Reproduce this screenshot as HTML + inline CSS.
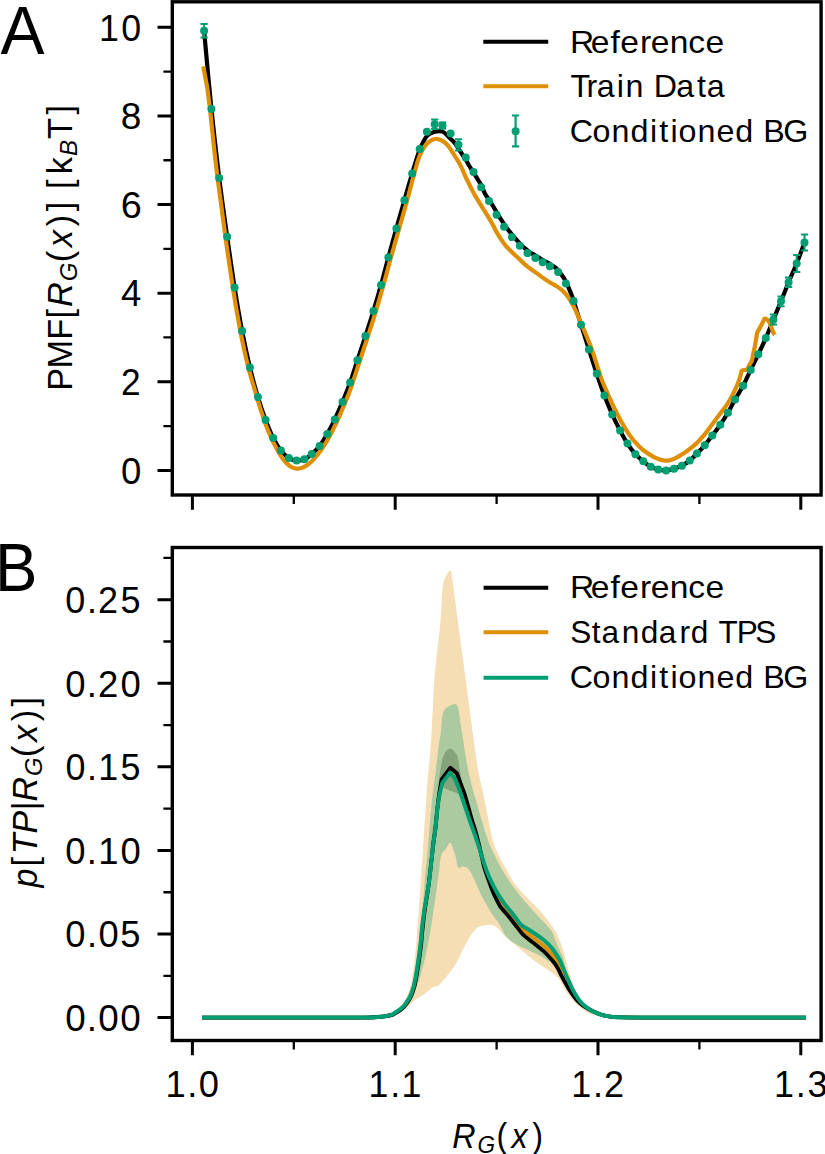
<!DOCTYPE html>
<html><head><meta charset="utf-8"><style>
html,body{margin:0;padding:0;background:#fff;}
body{width:825px;height:1154px;overflow:hidden;font-family:"Liberation Sans",sans-serif;}
svg{display:block;}
</style></head><body>
<svg width="825" height="1154" viewBox="0 0 825 1154">
<rect width="100%" height="100%" fill="#fff"/>
<g fill="none" stroke-linejoin="round" stroke-linecap="butt">
<path d="M204.10,30.70 C205.32,43.73 208.88,84.37 211.40,108.90 C213.92,133.43 216.57,156.58 219.20,177.90 C221.83,199.22 224.63,218.53 227.20,236.80 C229.77,255.07 232.12,271.80 234.60,287.50 C237.08,303.20 239.55,317.67 242.10,331.00 C244.65,344.33 247.27,356.48 249.90,367.50 C252.53,378.52 255.28,388.35 257.90,397.10 C260.52,405.85 263.05,413.18 265.60,420.00 C268.15,426.82 270.65,432.92 273.20,438.00 C275.75,443.08 278.30,447.18 280.90,450.50 C283.50,453.82 286.18,456.23 288.80,457.90 C291.42,459.57 294.00,460.27 296.60,460.50 C299.20,460.73 301.88,460.37 304.40,459.30 C306.92,458.23 309.17,456.32 311.70,454.10 C314.23,451.88 317.00,449.37 319.60,446.00 C322.20,442.63 324.77,438.33 327.30,433.90 C329.83,429.47 332.27,424.73 334.80,419.40 C337.33,414.07 339.95,408.07 342.50,401.90 C345.05,395.73 347.62,389.33 350.10,382.40 C352.58,375.47 354.85,368.02 357.40,360.30 C359.95,352.58 362.73,344.32 365.40,336.10 C368.07,327.88 370.80,319.52 373.40,311.00 C376.00,302.48 378.50,293.95 381.00,285.00 C383.50,276.05 385.83,266.73 388.40,257.30 C390.97,247.87 393.73,237.90 396.40,228.40 C399.07,218.90 401.77,209.47 404.40,200.30 C407.03,191.13 409.65,181.82 412.20,173.40 C414.75,164.98 417.25,156.03 419.70,149.80 C422.15,143.57 424.40,139.00 426.90,136.00 C429.40,133.00 432.07,132.53 434.70,131.80 C437.33,131.07 440.15,130.52 442.70,131.60 C445.25,132.68 448.00,136.40 450.00,138.30 C452.00,140.20 453.03,140.88 454.70,143.00 C456.37,145.12 458.23,148.33 460.00,151.00 C461.77,153.67 463.85,156.67 465.30,159.00 C466.75,161.33 467.58,163.12 468.70,165.00 C469.82,166.88 470.67,168.18 472.00,170.30 C473.33,172.42 475.15,175.22 476.70,177.70 C478.25,180.18 479.92,182.53 481.30,185.20 C482.68,187.87 483.72,191.33 485.00,193.74 C486.28,196.15 487.67,197.63 489.00,199.66 C490.33,201.70 491.67,203.73 493.00,205.96 C494.33,208.19 495.67,210.79 497.00,213.04 C498.33,215.29 499.67,217.35 501.00,219.44 C502.33,221.53 503.67,223.68 505.00,225.59 C506.33,227.49 507.67,229.15 509.00,230.87 C510.33,232.59 511.67,234.34 513.00,235.93 C514.33,237.51 515.67,238.93 517.00,240.38 C518.33,241.83 519.67,243.30 521.00,244.64 C522.33,245.98 523.67,247.25 525.00,248.43 C526.33,249.61 527.67,250.76 529.00,251.71 C530.33,252.66 531.67,253.33 533.00,254.14 C534.33,254.95 535.67,255.76 537.00,256.56 C538.33,257.37 539.67,258.20 541.00,258.98 C542.33,259.76 543.67,260.51 545.00,261.25 C546.33,261.99 547.67,262.60 549.00,263.41 C550.33,264.22 551.67,265.17 553.00,266.09 C554.33,267.01 555.67,267.60 557.00,268.92 C558.33,270.24 559.67,272.17 561.00,274.01 C562.33,275.85 563.67,277.52 565.00,279.96 C566.33,282.40 567.67,285.48 569.00,288.63 C570.33,291.79 571.67,294.99 573.00,298.87 C574.33,302.76 574.35,303.52 577.00,311.94 C579.65,320.36 585.60,339.09 588.90,349.40 C592.20,359.71 594.22,366.10 596.80,373.80 C599.38,381.50 601.83,388.82 604.40,395.60 C606.97,402.38 609.58,408.68 612.20,414.50 C614.82,420.32 617.55,425.65 620.10,430.50 C622.65,435.35 624.95,439.65 627.50,443.60 C630.05,447.55 632.77,451.25 635.40,454.20 C638.03,457.15 640.75,459.20 643.30,461.30 C645.85,463.40 648.22,465.43 650.70,466.80 C653.18,468.17 655.63,468.90 658.20,469.50 C660.77,470.10 663.47,470.52 666.10,470.40 C668.73,470.28 671.37,469.58 674.00,468.80 C676.63,468.02 679.27,467.08 681.90,465.70 C684.53,464.32 687.30,462.53 689.80,460.50 C692.30,458.47 694.42,456.03 696.90,453.50 C699.38,450.97 702.13,448.28 704.70,445.30 C707.27,442.32 709.70,439.02 712.30,435.60 C714.90,432.18 717.70,428.60 720.30,424.80 C722.90,421.00 725.43,417.03 727.90,412.80 C730.37,408.57 732.57,403.90 735.10,399.40 C737.63,394.90 740.50,390.72 743.10,385.80 C745.70,380.88 748.17,375.15 750.70,369.90 C753.23,364.65 755.78,359.60 758.30,354.30 C760.82,349.00 763.28,343.90 765.80,338.10 C768.32,332.30 770.87,325.63 773.40,319.50 C775.93,313.37 778.47,307.52 781.00,301.30 C783.53,295.08 785.98,288.50 788.60,282.20 C791.22,275.90 794.05,270.10 796.70,263.50 C799.35,256.90 803.20,246.08 804.50,242.60" stroke="#000000" stroke-width="4.2"/>
<path d="M203.30,66.40 C203.43,67.12 203.83,69.28 204.10,70.72 C204.37,72.16 204.63,73.60 204.90,75.04 C205.17,76.48 205.43,77.92 205.70,79.36 C205.97,80.80 206.23,82.24 206.50,83.68 C206.77,85.12 207.08,86.58 207.30,88.00 C207.52,89.42 207.66,90.79 207.84,92.18 C208.02,93.57 208.20,94.97 208.38,96.36 C208.56,97.75 208.74,99.15 208.92,100.54 C209.10,101.93 209.28,103.33 209.46,104.72 C209.64,106.11 209.84,107.49 210.00,108.90 C210.16,110.31 210.29,111.74 210.44,113.16 C210.58,114.58 210.73,116.00 210.88,117.43 C211.02,118.85 211.17,120.27 211.31,121.69 C211.46,123.11 211.60,124.53 211.75,125.95 C211.90,127.37 212.04,128.79 212.19,130.21 C212.33,131.63 212.48,133.05 212.62,134.48 C212.77,135.90 212.92,137.32 213.07,138.74 C213.22,140.17 213.37,141.60 213.52,143.04 C213.68,144.48 213.84,145.92 214.00,147.37 C214.17,148.82 214.33,150.27 214.50,151.72 C214.67,153.18 214.83,154.63 215.00,156.09 C215.17,157.54 215.33,159.00 215.50,160.45 C215.67,161.90 215.83,163.36 216.00,164.81 C216.17,166.27 216.33,167.72 216.50,169.18 C216.67,170.63 216.83,172.08 217.00,173.52 C217.18,174.97 217.35,176.40 217.53,177.82 C217.71,179.24 217.89,180.65 218.08,182.04 C218.26,183.44 218.45,184.83 218.64,186.21 C218.83,187.60 219.02,188.99 219.21,190.37 C219.40,191.76 219.60,193.14 219.79,194.53 C219.98,195.91 220.17,197.30 220.36,198.69 C220.55,200.07 220.74,201.46 220.93,202.85 C221.12,204.24 221.31,205.64 221.49,207.04 C221.68,208.44 221.87,209.85 222.06,211.26 C222.24,212.68 222.43,214.10 222.61,215.51 C222.80,216.93 222.99,218.35 223.17,219.77 C223.36,221.19 223.54,222.61 223.73,224.03 C223.91,225.45 224.10,226.87 224.29,228.29 C224.47,229.70 224.66,231.12 224.85,232.54 C225.03,233.95 225.22,235.37 225.42,236.78 C225.61,238.19 225.81,239.59 226.00,241.00 C226.20,242.40 226.40,243.80 226.60,245.20 C226.80,246.60 227.00,248.00 227.20,249.40 C227.40,250.80 227.60,252.20 227.80,253.60 C228.00,255.00 228.20,256.40 228.40,257.80 C228.60,259.21 228.81,260.61 229.01,262.02 C229.22,263.43 229.43,264.84 229.64,266.25 C229.84,267.67 230.06,269.08 230.27,270.50 C230.48,271.92 230.69,273.33 230.90,274.75 C231.11,276.17 231.32,277.58 231.53,279.00 C231.75,280.42 231.96,281.83 232.17,283.27 C232.39,284.70 232.61,286.14 232.84,287.59 C233.07,289.05 233.31,290.53 233.55,292.02 C233.79,293.50 234.03,295.00 234.28,296.50 C234.53,298.00 234.77,299.50 235.02,301.00 C235.27,302.50 235.51,304.00 235.76,305.48 C236.01,306.96 236.26,308.44 236.51,309.89 C236.76,311.34 237.01,312.76 237.26,314.18 C237.51,315.60 237.77,317.00 238.02,318.40 C238.27,319.80 238.52,321.19 238.78,322.60 C239.04,324.01 239.29,325.40 239.55,326.83 C239.82,328.27 240.09,329.71 240.38,331.21 C240.67,332.70 240.98,334.24 241.29,335.78 C241.60,337.33 241.93,338.93 242.25,340.50 C242.57,342.07 242.90,343.67 243.23,345.23 C243.55,346.79 243.88,348.34 244.21,349.86 C244.54,351.38 244.87,352.87 245.20,354.35 C245.53,355.83 245.86,357.29 246.20,358.75 C246.54,360.21 246.87,361.67 247.22,363.14 C247.58,364.61 247.94,366.09 248.33,367.59 C248.72,369.09 249.14,370.61 249.57,372.14 C250.00,373.67 250.45,375.22 250.90,376.75 C251.34,378.28 251.80,379.83 252.24,381.34 C252.68,382.86 253.12,384.36 253.55,385.82 C253.98,387.28 254.40,388.70 254.81,390.11 C255.23,391.52 255.63,392.89 256.04,394.28 C256.45,395.67 256.85,397.04 257.26,398.42 C257.67,399.80 258.07,401.18 258.50,402.57 C258.92,403.97 259.34,405.37 259.79,406.78 C260.24,408.20 260.70,409.63 261.17,411.07 C261.65,412.51 262.14,413.97 262.62,415.42 C263.10,416.87 263.59,418.33 264.08,419.78 C264.57,421.23 265.05,422.69 265.56,424.11 C266.07,425.54 266.58,426.96 267.13,428.34 C267.67,429.72 268.24,431.06 268.82,432.40 C269.40,433.73 270.00,435.03 270.60,436.35 C271.20,437.67 271.80,438.97 272.44,440.31 C273.08,441.65 273.73,443.00 274.44,444.40 C275.14,445.80 275.89,447.25 276.67,448.70 C277.46,450.15 278.26,451.65 279.14,453.13 C280.02,454.60 280.94,456.11 281.96,457.56 C282.97,459.00 284.09,460.49 285.24,461.77 C286.40,463.06 287.66,464.31 288.91,465.29 C290.17,466.26 291.47,467.06 292.77,467.61 C294.06,468.16 295.37,468.48 296.68,468.59 C297.99,468.69 299.29,468.56 300.62,468.23 C301.94,467.90 303.28,467.33 304.63,466.60 C305.98,465.87 307.38,464.90 308.73,463.83 C310.09,462.76 311.47,461.49 312.77,460.19 C314.08,458.88 315.36,457.43 316.56,455.99 C317.76,454.55 318.91,453.03 319.99,451.54 C321.08,450.06 322.09,448.56 323.08,447.07 C324.07,445.59 325.01,444.11 325.92,442.64 C326.83,441.18 327.71,439.72 328.53,438.27 C329.36,436.82 330.13,435.39 330.88,433.96 C331.63,432.53 332.34,431.12 333.05,429.70 C333.76,428.28 334.47,426.87 335.15,425.45 C335.84,424.03 336.52,422.62 337.18,421.20 C337.83,419.78 338.46,418.37 339.08,416.95 C339.70,415.53 340.30,414.12 340.90,412.70 C341.50,411.28 342.10,409.87 342.70,408.44 C343.30,407.01 343.91,405.58 344.51,404.13 C345.12,402.68 345.73,401.22 346.34,399.76 C346.94,398.30 347.56,396.81 348.13,395.37 C348.70,393.93 349.27,392.50 349.78,391.13 C350.30,389.75 350.76,388.43 351.21,387.11 C351.67,385.80 352.08,384.53 352.50,383.25 C352.92,381.97 353.33,380.70 353.75,379.42 C354.17,378.15 354.58,376.88 355.00,375.60 C355.42,374.33 355.83,373.05 356.25,371.78 C356.67,370.50 357.08,369.23 357.50,367.95 C357.92,366.67 358.33,365.40 358.76,364.11 C359.18,362.82 359.60,361.53 360.03,360.22 C360.46,358.91 360.90,357.59 361.34,356.25 C361.78,354.92 362.22,353.58 362.67,352.23 C363.11,350.89 363.56,349.54 364.00,348.20 C364.44,346.86 364.89,345.51 365.33,344.17 C365.78,342.82 366.22,341.48 366.67,340.12 C367.11,338.77 367.56,337.41 368.00,336.04 C368.44,334.67 368.89,333.29 369.33,331.91 C369.78,330.52 370.22,329.13 370.67,327.73 C371.11,326.34 371.56,324.94 372.00,323.55 C372.44,322.16 372.89,320.76 373.33,319.37 C373.78,317.97 374.22,316.58 374.66,315.17 C375.10,313.77 375.54,312.36 375.97,310.94 C376.40,309.52 376.82,308.09 377.24,306.66 C377.67,305.22 378.08,303.78 378.50,302.33 C378.92,300.89 379.33,299.44 379.75,298.00 C380.17,296.56 380.59,295.11 381.00,293.67 C381.41,292.23 381.83,290.78 382.24,289.36 C382.64,287.94 383.05,286.52 383.43,285.14 C383.82,283.76 384.19,282.41 384.56,281.07 C384.93,279.72 385.28,278.41 385.64,277.09 C386.00,275.76 386.36,274.45 386.71,273.13 C387.07,271.81 387.43,270.49 387.79,269.17 C388.14,267.85 388.50,266.53 388.86,265.21 C389.22,263.89 389.57,262.58 389.93,261.25 C390.29,259.93 390.66,258.60 391.03,257.27 C391.40,255.93 391.77,254.59 392.15,253.25 C392.52,251.91 392.91,250.56 393.29,249.21 C393.67,247.87 394.05,246.52 394.43,245.17 C394.81,243.82 395.19,242.48 395.57,241.13 C395.95,239.78 396.33,238.43 396.71,237.09 C397.10,235.74 397.48,234.39 397.86,233.05 C398.24,231.70 398.62,230.36 399.00,229.02 C399.38,227.68 399.76,226.34 400.14,225.00 C400.52,223.67 400.90,222.33 401.29,221.00 C401.67,219.67 402.05,218.33 402.43,217.00 C402.81,215.67 403.19,214.33 403.57,213.00 C403.95,211.67 404.33,210.34 404.71,209.00 C405.09,207.66 405.48,206.33 405.85,204.99 C406.23,203.64 406.61,202.29 406.98,200.93 C407.36,199.56 407.73,198.18 408.10,196.79 C408.47,195.40 408.83,194.00 409.20,192.60 C409.57,191.20 409.93,189.80 410.30,188.40 C410.67,187.00 411.03,185.60 411.40,184.22 C411.76,182.84 412.13,181.47 412.49,180.12 C412.85,178.77 413.21,177.45 413.56,176.14 C413.92,174.82 414.28,173.53 414.63,172.23 C414.99,170.94 415.34,169.64 415.70,168.35 C416.06,167.06 416.40,165.77 416.77,164.47 C417.14,163.16 417.48,161.88 417.92,160.54 C418.36,159.20 418.83,157.85 419.41,156.43 C420.00,155.02 420.67,153.53 421.42,152.06 C422.17,150.58 422.97,149.03 423.91,147.61 C424.85,146.19 425.87,144.75 427.05,143.56 C428.23,142.36 429.62,141.22 430.97,140.46 C432.33,139.69 433.83,139.16 435.20,138.98 C436.57,138.80 437.90,139.04 439.17,139.40 C440.43,139.75 441.64,140.42 442.79,141.12 C443.94,141.82 445.04,142.67 446.05,143.62 C447.06,144.57 447.97,145.68 448.86,146.84 C449.74,147.99 450.54,149.28 451.37,150.53 C452.19,151.79 452.99,153.08 453.80,154.35 C454.61,155.62 455.43,156.89 456.23,158.17 C457.04,159.45 457.86,160.71 458.62,162.03 C459.39,163.34 460.13,164.67 460.82,166.06 C461.52,167.44 462.14,168.89 462.79,170.34 C463.44,171.80 464.04,173.31 464.71,174.80 C465.37,176.29 466.07,177.80 466.76,179.25 C467.45,180.71 468.18,182.15 468.86,183.53 C469.54,184.90 470.19,186.21 470.84,187.52 C471.50,188.83 472.11,190.07 472.79,191.38 C473.48,192.69 474.18,194.00 474.97,195.38 C475.75,196.75 476.62,198.19 477.51,199.65 C478.39,201.10 479.35,202.61 480.28,204.10 C481.21,205.59 482.16,207.10 483.10,208.60 C484.03,210.10 484.98,211.61 485.90,213.10 C486.82,214.59 487.77,216.10 488.64,217.55 C489.52,219.01 490.38,220.45 491.16,221.82 C491.95,223.20 492.64,224.51 493.34,225.82 C494.04,227.13 494.66,228.37 495.36,229.68 C496.06,230.99 496.75,232.30 497.54,233.67 C498.33,235.05 499.18,236.49 500.09,237.91 C501.01,239.33 501.99,240.79 503.03,242.19 C504.06,243.59 505.14,244.96 506.31,246.32 C507.47,247.67 508.72,248.99 510.01,250.30 C511.31,251.61 512.74,252.93 514.08,254.19 C515.41,255.45 516.80,256.69 518.04,257.84 C519.28,259.00 520.40,260.08 521.51,261.14 C522.62,262.20 523.58,263.19 524.69,264.19 C525.80,265.18 526.91,266.15 528.16,267.12 C529.41,268.10 530.79,269.04 532.19,270.04 C533.59,271.04 535.11,272.05 536.58,273.12 C538.06,274.18 539.56,275.34 541.04,276.43 C542.52,277.51 543.98,278.63 545.46,279.63 C546.95,280.64 548.40,281.53 549.94,282.45 C551.48,283.37 553.08,284.17 554.71,285.15 C556.34,286.13 558.10,287.09 559.73,288.32 C561.36,289.56 563.01,290.96 564.49,292.54 C565.98,294.12 567.38,296.02 568.62,297.81 C569.86,299.60 570.97,301.56 571.95,303.28 C572.93,304.99 573.72,306.55 574.48,308.08 C575.24,309.61 575.86,310.97 576.52,312.46 C577.18,313.94 577.81,315.45 578.45,316.98 C579.10,318.50 579.75,320.08 580.40,321.61 C581.05,323.14 581.70,324.64 582.35,326.15 C583.00,327.66 583.65,329.16 584.30,330.69 C584.95,332.22 585.60,333.80 586.23,335.32 C586.86,336.85 587.49,338.39 588.09,339.84 C588.68,341.30 589.26,342.68 589.81,344.04 C590.35,345.40 590.86,346.69 591.35,348.00 C591.84,349.32 592.28,350.61 592.73,351.91 C593.17,353.22 593.58,354.52 594.00,355.82 C594.42,357.13 594.83,358.43 595.25,359.74 C595.67,361.04 596.08,362.35 596.50,363.65 C596.92,364.95 597.33,366.26 597.75,367.56 C598.17,368.87 598.58,370.17 599.00,371.48 C599.42,372.78 599.83,374.08 600.27,375.37 C600.71,376.66 601.15,377.95 601.62,379.21 C602.10,380.48 602.60,381.73 603.10,382.97 C603.61,384.21 604.14,385.44 604.67,386.67 C605.19,387.90 605.72,389.12 606.25,390.35 C606.78,391.58 607.30,392.80 607.83,394.03 C608.36,395.26 608.89,396.49 609.44,397.72 C609.98,398.96 610.53,400.19 611.11,401.44 C611.69,402.68 612.29,403.93 612.90,405.19 C613.51,406.44 614.14,407.70 614.76,408.96 C615.38,410.22 616.01,411.48 616.64,412.74 C617.27,414.00 617.89,415.26 618.55,416.53 C619.21,417.80 619.88,419.08 620.59,420.36 C621.29,421.65 622.05,422.95 622.81,424.26 C623.57,425.57 624.36,426.89 625.15,428.20 C625.94,429.51 626.73,430.83 627.55,432.10 C628.36,433.37 629.19,434.62 630.04,435.80 C630.89,436.98 631.78,438.10 632.67,439.20 C633.57,440.30 634.47,441.34 635.40,442.40 C636.33,443.46 637.23,444.50 638.24,445.53 C639.25,446.56 640.29,447.59 641.44,448.59 C642.60,449.60 643.87,450.58 645.19,451.55 C646.51,452.52 647.92,453.47 649.38,454.39 C650.85,455.31 652.38,456.24 653.99,457.05 C655.60,457.86 657.33,458.68 659.03,459.26 C660.74,459.83 662.52,460.32 664.22,460.50 C665.91,460.68 667.57,460.63 669.20,460.37 C670.83,460.10 672.41,459.55 674.00,458.89 C675.59,458.24 677.17,457.33 678.75,456.42 C680.33,455.50 681.92,454.43 683.48,453.40 C685.04,452.37 686.63,451.30 688.11,450.23 C689.60,449.16 691.06,448.08 692.40,446.98 C693.74,445.88 694.99,444.75 696.18,443.61 C697.38,442.48 698.50,441.32 699.59,440.17 C700.67,439.01 701.72,437.85 702.71,436.69 C703.71,435.54 704.64,434.38 705.55,433.22 C706.47,432.06 707.33,430.90 708.20,429.74 C709.07,428.58 709.93,427.42 710.80,426.26 C711.67,425.10 712.53,423.94 713.40,422.78 C714.27,421.62 715.13,420.46 716.00,419.31 C716.87,418.15 717.73,417.00 718.60,415.84 C719.47,414.69 720.33,413.53 721.20,412.38 C722.07,411.23 722.94,410.08 723.80,408.92 C724.66,407.76 725.53,406.61 726.37,405.41 C727.21,404.20 728.04,402.97 728.84,401.68 C729.64,400.38 730.40,399.01 731.15,397.62 C731.90,396.23 732.63,394.79 733.35,393.35 C734.07,391.91 734.80,390.47 735.48,389.00 C736.16,387.54 736.81,386.06 737.42,384.56 C738.03,383.06 738.61,381.54 739.13,380.00 C739.66,378.46 740.09,376.87 740.57,375.30 C741.04,373.73 740.96,371.57 742.00,370.60 C743.04,369.63 745.58,370.41 746.80,369.50 C748.02,368.59 748.47,366.60 749.30,365.15 C750.13,363.70 751.21,362.36 751.80,360.80 C752.39,359.24 752.51,357.44 752.87,355.77 C753.22,354.09 753.58,352.41 753.93,350.73 C754.29,349.06 754.70,347.26 755.00,345.70 C755.30,344.14 755.49,342.81 755.73,341.37 C755.98,339.92 756.22,338.48 756.47,337.03 C756.71,335.59 756.76,334.01 757.20,332.70 C757.64,331.39 758.47,330.35 759.10,329.18 C759.73,328.00 760.37,326.82 761.00,325.65 C761.63,324.47 762.27,323.30 762.90,322.12 C763.53,320.95 763.77,318.65 764.80,318.60 C765.83,318.55 768.02,320.36 769.10,321.80 C770.18,323.24 770.53,325.43 771.25,327.25 C771.97,329.07 772.77,331.44 773.40,332.70 C774.02,333.96 774.73,334.45 775.00,334.80" stroke="#DE8F05" stroke-width="4.2"/>
</g>
<g stroke="#029E73" stroke-width="2" fill="#029E73">
<path d="M204.10,23.90 V37.50 M200.50,23.90 H207.70 M200.50,37.50 H207.70" fill="none"/>
<circle cx="204.10" cy="30.70" r="4.0" stroke="none"/>
<circle cx="211.40" cy="108.90" r="4.0" stroke="none"/>
<circle cx="219.20" cy="177.90" r="4.0" stroke="none"/>
<circle cx="227.20" cy="236.80" r="4.0" stroke="none"/>
<circle cx="234.60" cy="287.50" r="4.0" stroke="none"/>
<circle cx="242.10" cy="331.00" r="4.0" stroke="none"/>
<circle cx="249.90" cy="367.50" r="4.0" stroke="none"/>
<circle cx="257.90" cy="397.10" r="4.0" stroke="none"/>
<circle cx="265.60" cy="420.00" r="4.0" stroke="none"/>
<circle cx="273.20" cy="438.00" r="4.0" stroke="none"/>
<circle cx="280.90" cy="450.50" r="4.0" stroke="none"/>
<circle cx="288.80" cy="457.90" r="4.0" stroke="none"/>
<circle cx="296.60" cy="460.50" r="4.0" stroke="none"/>
<circle cx="304.40" cy="459.30" r="4.0" stroke="none"/>
<circle cx="311.70" cy="454.10" r="4.0" stroke="none"/>
<circle cx="319.60" cy="446.00" r="4.0" stroke="none"/>
<circle cx="327.30" cy="433.90" r="4.0" stroke="none"/>
<circle cx="334.80" cy="419.40" r="4.0" stroke="none"/>
<circle cx="342.50" cy="401.90" r="4.0" stroke="none"/>
<circle cx="350.10" cy="382.40" r="4.0" stroke="none"/>
<circle cx="357.40" cy="360.30" r="4.0" stroke="none"/>
<circle cx="365.40" cy="336.10" r="4.0" stroke="none"/>
<circle cx="373.40" cy="311.00" r="4.0" stroke="none"/>
<circle cx="381.00" cy="285.00" r="4.0" stroke="none"/>
<circle cx="388.40" cy="257.30" r="4.0" stroke="none"/>
<circle cx="396.40" cy="228.40" r="4.0" stroke="none"/>
<circle cx="404.40" cy="200.30" r="4.0" stroke="none"/>
<circle cx="412.20" cy="173.40" r="4.0" stroke="none"/>
<circle cx="419.70" cy="149.00" r="4.0" stroke="none"/>
<circle cx="426.90" cy="131.70" r="4.0" stroke="none"/>
<path d="M434.70,119.50 V129.10 M431.10,119.50 H438.30 M431.10,129.10 H438.30" fill="none"/>
<circle cx="434.70" cy="124.30" r="4.0" stroke="none"/>
<path d="M442.50,122.50 V128.50 M438.90,122.50 H446.10 M438.90,128.50 H446.10" fill="none"/>
<circle cx="442.50" cy="125.50" r="4.0" stroke="none"/>
<circle cx="450.60" cy="133.50" r="4.0" stroke="none"/>
<path d="M458.50,139.20 V150.40 M454.90,139.20 H462.10 M454.90,150.40 H462.10" fill="none"/>
<circle cx="458.50" cy="144.80" r="4.0" stroke="none"/>
<circle cx="465.70" cy="157.50" r="4.0" stroke="none"/>
<circle cx="473.50" cy="172.00" r="4.0" stroke="none"/>
<circle cx="481.20" cy="187.30" r="4.0" stroke="none"/>
<circle cx="489.00" cy="201.10" r="4.0" stroke="none"/>
<circle cx="496.60" cy="214.70" r="4.0" stroke="none"/>
<circle cx="504.10" cy="226.70" r="4.0" stroke="none"/>
<circle cx="511.90" cy="237.00" r="4.0" stroke="none"/>
<circle cx="519.80" cy="245.80" r="4.0" stroke="none"/>
<circle cx="527.50" cy="253.10" r="4.0" stroke="none"/>
<circle cx="535.40" cy="257.90" r="4.0" stroke="none"/>
<circle cx="542.70" cy="262.30" r="4.0" stroke="none"/>
<circle cx="549.90" cy="266.20" r="4.0" stroke="none"/>
<circle cx="558.10" cy="272.00" r="4.0" stroke="none"/>
<circle cx="565.90" cy="283.60" r="4.0" stroke="none"/>
<circle cx="573.60" cy="301.10" r="4.0" stroke="none"/>
<circle cx="581.00" cy="324.70" r="4.0" stroke="none"/>
<circle cx="588.90" cy="349.40" r="4.0" stroke="none"/>
<circle cx="596.80" cy="373.80" r="4.0" stroke="none"/>
<circle cx="604.40" cy="395.60" r="4.0" stroke="none"/>
<circle cx="612.20" cy="414.50" r="4.0" stroke="none"/>
<circle cx="620.10" cy="430.50" r="4.0" stroke="none"/>
<circle cx="627.50" cy="443.60" r="4.0" stroke="none"/>
<circle cx="635.40" cy="454.20" r="4.0" stroke="none"/>
<circle cx="643.30" cy="461.30" r="4.0" stroke="none"/>
<circle cx="650.70" cy="466.80" r="4.0" stroke="none"/>
<circle cx="658.20" cy="469.50" r="4.0" stroke="none"/>
<circle cx="666.10" cy="470.40" r="4.0" stroke="none"/>
<circle cx="674.00" cy="468.80" r="4.0" stroke="none"/>
<circle cx="681.90" cy="465.70" r="4.0" stroke="none"/>
<circle cx="689.80" cy="460.50" r="4.0" stroke="none"/>
<circle cx="696.90" cy="453.50" r="4.0" stroke="none"/>
<circle cx="704.70" cy="445.30" r="4.0" stroke="none"/>
<circle cx="712.30" cy="435.60" r="4.0" stroke="none"/>
<circle cx="720.30" cy="424.80" r="4.0" stroke="none"/>
<circle cx="727.90" cy="412.80" r="4.0" stroke="none"/>
<circle cx="735.10" cy="399.40" r="4.0" stroke="none"/>
<circle cx="743.10" cy="385.80" r="4.0" stroke="none"/>
<circle cx="750.70" cy="369.90" r="4.0" stroke="none"/>
<circle cx="758.30" cy="354.30" r="4.0" stroke="none"/>
<circle cx="765.80" cy="338.10" r="4.0" stroke="none"/>
<path d="M773.40,314.50 V324.50 M769.80,314.50 H777.00 M769.80,324.50 H777.00" fill="none"/>
<circle cx="773.40" cy="319.50" r="4.0" stroke="none"/>
<path d="M781.00,296.40 V306.20 M777.40,296.40 H784.60 M777.40,306.20 H784.60" fill="none"/>
<circle cx="781.00" cy="301.30" r="4.0" stroke="none"/>
<path d="M788.60,277.50 V286.90 M785.00,277.50 H792.20 M785.00,286.90 H792.20" fill="none"/>
<circle cx="788.60" cy="282.20" r="4.0" stroke="none"/>
<path d="M796.70,254.90 V272.10 M793.10,254.90 H800.30 M793.10,272.10 H800.30" fill="none"/>
<circle cx="796.70" cy="263.50" r="4.0" stroke="none"/>
<path d="M804.50,234.60 V250.60 M800.90,234.60 H808.10 M800.90,250.60 H808.10" fill="none"/>
<circle cx="804.50" cy="242.60" r="4.0" stroke="none"/>
</g>
<path d="M430.00,850.00 L433.50,825.00 L436.50,800.00 L439.50,775.00 L442.50,758.00 L445.80,751.00 L450.30,748.20 L454.10,751.00 L457.60,756.00 L459.50,768.00 L462.00,782.00 L466.00,800.00 L472.00,822.00 L472.00,826.00 L466.00,808.00 L461.00,796.00 L456.50,793.00 L451.00,791.00 L446.00,789.00 L442.00,787.00 L439.00,805.00 L436.00,830.00 L433.00,852.00 Z" fill="#000" fill-opacity="0.3"/>
<path d="M385.00,1017.40 C386.33,1016.92 390.75,1015.65 393.00,1014.50 C395.25,1013.35 397.00,1011.92 398.50,1010.50 C400.00,1009.08 400.83,1007.87 402.00,1006.00 C403.17,1004.13 404.22,1002.15 405.50,999.30 C406.78,996.45 408.42,993.52 409.70,988.90 C410.98,984.28 412.22,977.95 413.20,971.60 C414.18,965.25 414.92,957.73 415.60,950.80 C416.28,943.87 416.77,936.80 417.30,930.00 C417.83,923.20 418.20,918.28 418.80,910.00 C419.40,901.72 420.03,893.05 420.90,880.30 C421.77,867.55 422.97,849.08 424.00,833.50 C425.03,817.92 426.18,799.05 427.10,786.80 C428.02,774.55 428.78,768.47 429.50,760.00 C430.22,751.53 430.83,744.83 431.40,736.00 C431.97,727.17 432.47,715.50 432.90,707.00 C433.33,698.50 433.62,691.17 434.00,685.00 C434.38,678.83 434.73,675.00 435.20,670.00 C435.67,665.00 436.25,660.00 436.80,655.00 C437.35,650.00 437.87,645.83 438.50,640.00 C439.13,634.17 440.00,627.55 440.60,620.00 C441.20,612.45 441.67,600.70 442.10,594.70 C442.53,588.70 442.55,587.12 443.20,584.00 C443.85,580.88 444.82,578.27 446.00,576.00 C447.18,573.73 449.30,570.18 450.30,570.40 C451.30,570.62 451.13,571.82 452.00,577.30 C452.87,582.78 454.35,594.63 455.50,603.30 C456.65,611.97 457.75,620.63 458.90,629.30 C460.05,637.97 461.23,646.63 462.40,655.30 C463.57,663.97 464.75,672.63 465.90,681.30 C467.05,689.97 468.15,698.63 469.30,707.30 C470.45,715.97 471.63,724.63 472.80,733.30 C473.97,741.97 475.27,752.35 476.30,759.30 C477.33,766.25 477.90,769.55 479.00,775.00 C480.10,780.45 481.98,787.83 482.90,792.00 C483.82,796.17 483.63,795.67 484.50,800.00 C485.37,804.33 486.73,811.33 488.10,818.00 C489.47,824.67 490.97,833.83 492.70,840.00 C494.43,846.17 496.18,850.00 498.50,855.00 C500.82,860.00 503.60,864.83 506.60,870.00 C509.60,875.17 512.70,881.00 516.50,886.00 C520.30,891.00 525.15,895.50 529.40,900.00 C533.65,904.50 537.80,908.00 542.00,913.00 C546.20,918.00 551.85,925.83 554.60,930.00 C557.35,934.17 557.12,934.80 558.50,938.00 C559.88,941.20 561.52,944.90 562.90,949.20 C564.28,953.50 565.45,959.00 566.80,963.80 C568.15,968.60 569.47,973.30 571.00,978.00 C572.53,982.70 574.17,987.67 576.00,992.00 C577.83,996.33 579.67,1000.67 582.00,1004.00 C584.33,1007.33 587.00,1009.92 590.00,1012.00 C593.00,1014.08 596.33,1015.58 600.00,1016.50 C603.67,1017.42 610.00,1017.33 612.00,1017.50 L612.00,1017.50 C610.00,1017.38 604.50,1017.88 600.00,1016.80 C595.50,1015.72 590.00,1014.30 585.00,1011.00 C580.00,1007.70 573.67,1001.17 570.00,997.00 C566.33,992.83 564.83,988.95 563.00,986.00 C561.17,983.05 560.63,981.38 559.00,979.30 C557.37,977.22 555.37,975.30 553.20,973.50 C551.03,971.70 548.43,970.12 546.00,968.50 C543.57,966.88 541.10,965.55 538.60,963.80 C536.10,962.05 533.42,959.93 531.00,958.00 C528.58,956.07 526.68,954.37 524.10,952.20 C521.52,950.03 518.25,947.27 515.50,945.00 C512.75,942.73 509.85,940.60 507.60,938.60 C505.35,936.60 503.37,934.43 502.00,933.00 C500.63,931.57 500.57,931.17 499.40,930.00 C498.23,928.83 496.78,926.88 495.00,926.00 C493.22,925.12 491.37,924.60 488.70,924.70 C486.03,924.80 481.27,925.72 479.00,926.60 C476.73,927.48 476.60,928.37 475.10,930.00 C473.60,931.63 472.17,932.92 470.00,936.40 C467.83,939.88 464.63,946.05 462.10,950.90 C459.57,955.75 458.48,959.98 454.80,965.50 C451.12,971.02 443.70,980.33 440.00,984.00 C436.30,987.67 434.88,986.10 432.60,987.50 C430.32,988.90 428.27,990.90 426.30,992.40 C424.33,993.90 422.52,995.35 420.80,996.50 C419.08,997.65 417.62,998.13 416.00,999.30 C414.38,1000.47 412.93,1001.88 411.10,1003.50 C409.27,1005.12 407.18,1007.25 405.00,1009.00 C402.82,1010.75 400.50,1012.70 398.00,1014.00 C395.50,1015.30 392.17,1016.23 390.00,1016.80 C387.83,1017.37 385.83,1017.30 385.00,1017.40 Z" fill="#DE8F05" fill-opacity="0.3"/>
<path d="M388.00,1017.30 C389.67,1016.75 395.17,1015.72 398.00,1014.00 C400.83,1012.28 403.00,1010.00 405.00,1007.00 C407.00,1004.00 408.50,1000.83 410.00,996.00 C411.50,991.17 412.67,985.67 414.00,978.00 C415.33,970.33 416.72,959.80 418.00,950.00 C419.28,940.20 420.57,930.82 421.70,919.20 C422.83,907.58 423.77,891.98 424.80,880.30 C425.83,868.62 426.73,862.10 427.90,849.10 C429.07,836.10 430.50,815.28 431.80,802.30 C433.10,789.32 434.53,780.75 435.70,771.20 C436.87,761.65 437.97,751.32 438.80,745.00 C439.63,738.68 439.95,738.72 440.70,733.30 C441.45,727.88 441.70,717.12 443.30,712.50 C444.90,707.88 447.98,706.75 450.30,705.60 C452.62,704.45 455.47,702.43 457.20,705.60 C458.93,708.77 459.58,718.03 460.70,724.60 C461.82,731.17 462.80,738.10 463.90,745.00 C465.00,751.90 465.70,758.17 467.30,766.00 C468.90,773.83 472.05,786.33 473.50,792.00 C474.95,797.67 474.75,795.67 476.00,800.00 C477.25,804.33 479.02,811.33 481.00,818.00 C482.98,824.67 485.57,833.67 487.90,840.00 C490.23,846.33 492.60,851.00 495.00,856.00 C497.40,861.00 499.47,865.17 502.30,870.00 C505.13,874.83 508.45,880.00 512.00,885.00 C515.55,890.00 519.43,895.00 523.60,900.00 C527.77,905.00 532.47,910.00 537.00,915.00 C541.53,920.00 547.78,925.92 550.80,930.00 C553.82,934.08 553.73,936.30 555.10,939.50 C556.47,942.70 557.70,946.28 559.00,949.20 C560.30,952.12 561.93,954.25 562.90,957.00 C563.87,959.75 563.78,962.37 564.80,965.70 C565.82,969.03 567.47,972.95 569.00,977.00 C570.53,981.05 572.17,986.00 574.00,990.00 C575.83,994.00 577.67,997.67 580.00,1001.00 C582.33,1004.33 584.67,1007.50 588.00,1010.00 C591.33,1012.50 596.00,1014.77 600.00,1016.00 C604.00,1017.23 610.00,1017.17 612.00,1017.40 L612.00,1017.40 C610.00,1017.25 604.50,1017.90 600.00,1016.50 C595.50,1015.10 589.67,1012.42 585.00,1009.00 C580.33,1005.58 575.67,1000.33 572.00,996.00 C568.33,991.67 565.17,986.43 563.00,983.00 C560.83,979.57 560.32,977.95 559.00,975.40 C557.68,972.85 556.72,969.97 555.10,967.70 C553.48,965.43 552.05,963.90 549.30,961.80 C546.55,959.70 542.32,957.15 538.60,955.10 C534.88,953.05 531.03,951.48 527.00,949.50 C522.97,947.52 517.90,945.40 514.40,943.20 C510.90,941.00 508.02,938.58 506.00,936.30 C503.98,934.02 503.63,931.88 502.30,929.50 C500.97,927.12 499.72,924.58 498.00,922.00 C496.28,919.42 494.35,917.67 492.00,914.00 C489.65,910.33 486.23,904.33 483.90,900.00 C481.57,895.67 480.32,892.85 478.00,888.00 C475.68,883.15 472.50,874.53 470.00,870.90 C467.50,867.27 464.95,866.72 463.00,866.20 C461.05,865.68 459.60,869.62 458.30,867.80 C457.00,865.98 456.50,859.45 455.20,855.30 C453.90,851.15 452.07,843.93 450.50,842.90 C448.93,841.87 447.35,847.03 445.80,849.10 C444.25,851.17 442.30,851.82 441.20,855.30 C440.10,858.78 439.90,864.75 439.20,870.00 C438.50,875.25 438.13,878.82 437.00,886.80 C435.87,894.78 433.82,908.82 432.40,917.90 C430.98,926.98 429.82,934.28 428.50,941.30 C427.18,948.32 425.92,954.05 424.50,960.00 C423.08,965.95 421.58,971.92 420.00,977.00 C418.42,982.08 417.00,986.25 415.00,990.50 C413.00,994.75 410.50,999.25 408.00,1002.50 C405.50,1005.75 402.50,1008.00 400.00,1010.00 C397.50,1012.00 395.00,1013.28 393.00,1014.50 C391.00,1015.72 388.83,1016.83 388.00,1017.30 Z" fill="#029E73" fill-opacity="0.3"/>
<g fill="none" stroke-linejoin="round" stroke-linecap="butt">
<path d="M202.00,1017.60 C202.33,1017.60 203.33,1017.60 204.00,1017.60 C204.67,1017.60 205.33,1017.60 206.00,1017.60 C206.67,1017.60 207.33,1017.60 208.00,1017.60 C208.67,1017.60 209.33,1017.60 210.00,1017.60 C210.67,1017.60 211.33,1017.60 212.00,1017.60 C212.67,1017.60 213.33,1017.60 214.00,1017.60 C214.67,1017.60 215.33,1017.60 216.00,1017.60 C216.67,1017.60 217.33,1017.60 218.00,1017.60 C218.67,1017.60 219.33,1017.60 220.00,1017.60 C220.67,1017.60 221.33,1017.60 222.00,1017.60 C222.67,1017.60 223.33,1017.60 224.00,1017.60 C224.67,1017.60 225.33,1017.60 226.00,1017.60 C226.67,1017.60 227.33,1017.60 228.00,1017.60 C228.67,1017.60 229.33,1017.60 230.00,1017.60 C230.67,1017.60 231.33,1017.60 232.00,1017.60 C232.67,1017.60 233.33,1017.60 234.00,1017.60 C234.67,1017.60 235.33,1017.60 236.00,1017.60 C236.67,1017.60 237.33,1017.60 238.00,1017.60 C238.67,1017.60 239.33,1017.60 240.00,1017.60 C240.67,1017.60 241.33,1017.60 242.00,1017.60 C242.67,1017.60 243.33,1017.60 244.00,1017.60 C244.67,1017.60 245.33,1017.60 246.00,1017.60 C246.67,1017.60 247.33,1017.60 248.00,1017.60 C248.67,1017.60 249.33,1017.60 250.00,1017.60 C250.67,1017.60 251.33,1017.60 252.00,1017.60 C252.67,1017.60 253.33,1017.60 254.00,1017.60 C254.67,1017.60 255.33,1017.60 256.00,1017.60 C256.67,1017.60 257.33,1017.60 258.00,1017.60 C258.67,1017.60 259.33,1017.60 260.00,1017.60 C260.67,1017.60 261.33,1017.60 262.00,1017.60 C262.67,1017.60 263.33,1017.60 264.00,1017.60 C264.67,1017.60 265.33,1017.60 266.00,1017.60 C266.67,1017.60 267.33,1017.60 268.00,1017.60 C268.67,1017.60 269.33,1017.60 270.00,1017.60 C270.67,1017.60 271.33,1017.60 272.00,1017.60 C272.67,1017.60 273.33,1017.60 274.00,1017.60 C274.67,1017.60 275.33,1017.60 276.00,1017.60 C276.67,1017.60 277.33,1017.60 278.00,1017.60 C278.67,1017.60 279.33,1017.60 280.00,1017.60 C280.67,1017.60 281.33,1017.60 282.00,1017.60 C282.67,1017.60 283.33,1017.60 284.00,1017.60 C284.67,1017.60 285.33,1017.60 286.00,1017.60 C286.67,1017.60 287.33,1017.60 288.00,1017.60 C288.67,1017.60 289.33,1017.60 290.00,1017.60 C290.67,1017.60 291.33,1017.60 292.00,1017.60 C292.67,1017.60 293.33,1017.60 294.00,1017.60 C294.67,1017.60 295.33,1017.60 296.00,1017.60 C296.67,1017.60 297.33,1017.60 298.00,1017.60 C298.67,1017.60 299.33,1017.60 300.00,1017.60 C300.67,1017.60 301.33,1017.60 302.00,1017.60 C302.67,1017.60 303.33,1017.60 304.00,1017.60 C304.67,1017.60 305.33,1017.60 306.00,1017.60 C306.67,1017.59 307.33,1017.59 308.00,1017.59 C308.67,1017.59 309.33,1017.59 310.00,1017.59 C310.67,1017.59 311.33,1017.59 312.00,1017.59 C312.67,1017.59 313.33,1017.59 314.00,1017.59 C314.67,1017.59 315.33,1017.59 316.00,1017.59 C316.67,1017.59 317.33,1017.59 318.00,1017.59 C318.67,1017.58 319.33,1017.58 320.00,1017.58 C320.67,1017.58 321.33,1017.58 322.00,1017.58 C322.67,1017.58 323.33,1017.58 324.00,1017.58 C324.67,1017.58 325.33,1017.58 326.00,1017.58 C326.67,1017.58 327.33,1017.58 328.00,1017.58 C328.67,1017.58 329.33,1017.58 330.00,1017.58 C330.67,1017.57 331.33,1017.57 332.00,1017.57 C332.67,1017.57 333.33,1017.57 334.00,1017.57 C334.67,1017.57 335.33,1017.57 336.00,1017.57 C336.67,1017.57 337.33,1017.57 338.00,1017.57 C338.67,1017.57 339.33,1017.57 340.00,1017.57 C340.67,1017.57 341.33,1017.57 342.00,1017.57 C342.67,1017.56 343.33,1017.56 344.00,1017.56 C344.67,1017.56 345.33,1017.56 346.00,1017.56 C346.67,1017.56 347.33,1017.56 348.00,1017.56 C348.67,1017.56 349.33,1017.56 350.00,1017.56 C350.67,1017.56 351.33,1017.56 352.00,1017.56 C352.67,1017.56 353.33,1017.56 354.00,1017.56 C354.67,1017.55 355.33,1017.55 356.00,1017.55 C356.67,1017.55 357.33,1017.55 358.00,1017.55 C358.67,1017.55 359.33,1017.56 360.00,1017.55 C360.67,1017.54 361.33,1017.52 362.00,1017.50 C362.67,1017.48 363.33,1017.47 364.00,1017.45 C364.67,1017.43 365.33,1017.42 366.00,1017.40 C366.67,1017.38 367.33,1017.37 368.00,1017.35 C368.67,1017.33 369.33,1017.32 370.00,1017.30 C370.67,1017.28 371.33,1017.25 372.00,1017.22 C372.67,1017.20 373.33,1017.17 374.00,1017.15 C374.67,1017.12 375.33,1017.10 376.00,1017.08 C376.67,1017.05 377.33,1017.05 378.00,1017.00 C378.67,1016.95 379.33,1016.86 380.00,1016.79 C380.67,1016.71 381.33,1016.64 382.00,1016.57 C382.67,1016.50 383.33,1016.45 384.00,1016.36 C384.67,1016.27 385.33,1016.16 386.00,1016.04 C386.67,1015.91 387.33,1015.75 388.00,1015.61 C388.67,1015.47 389.33,1015.33 390.00,1015.18 C390.67,1015.03 391.33,1014.98 392.00,1014.72 C392.67,1014.45 393.33,1013.97 394.00,1013.57 C394.67,1013.18 395.33,1012.80 396.00,1012.37 C396.67,1011.95 397.33,1011.49 398.00,1011.05 C398.67,1010.60 399.33,1010.17 400.00,1009.70 C400.67,1009.22 401.33,1008.83 402.00,1008.21 C402.67,1007.58 403.33,1006.69 404.00,1005.94 C404.67,1005.18 405.33,1004.55 406.00,1003.66 C406.67,1002.78 407.33,1001.70 408.00,1000.65 C408.67,999.60 409.33,998.77 410.00,997.39 C410.67,996.01 411.33,994.23 412.00,992.39 C412.67,990.55 413.33,988.97 414.00,986.34 C414.67,983.70 415.33,980.19 416.00,976.58 C416.67,972.97 417.33,969.04 418.00,964.67 C418.67,960.30 419.33,955.87 420.00,950.36 C420.67,944.86 421.33,937.65 422.00,931.62 C422.67,925.60 423.33,919.29 424.00,914.21 C424.67,909.14 425.33,905.44 426.00,901.19 C426.67,896.95 427.33,893.42 428.00,888.74 C428.67,884.05 429.33,878.61 430.00,873.10 C430.67,867.59 431.33,861.31 432.00,855.65 C432.67,849.99 433.33,844.62 434.00,839.16 C434.67,833.69 435.33,828.77 436.00,822.85 C436.67,816.92 437.33,808.96 438.00,803.62 C438.67,798.29 439.33,794.51 440.00,790.82 C440.67,787.14 441.33,783.59 442.00,781.52 C442.67,779.45 443.33,779.38 444.00,778.41 C444.67,777.45 445.33,776.63 446.00,775.74 C446.67,774.85 447.33,773.96 448.00,773.07 C448.67,772.18 449.33,770.57 450.00,770.40 C450.67,770.23 451.33,771.46 452.00,772.06 C452.67,772.67 453.33,773.26 454.00,774.05 C454.67,774.84 455.33,775.64 456.00,776.82 C456.67,778.00 457.33,779.50 458.00,781.12 C458.67,782.73 459.33,784.65 460.00,786.50 C460.67,788.35 461.33,790.32 462.00,792.21 C462.67,794.10 463.33,795.88 464.00,797.86 C464.67,799.83 465.33,801.95 466.00,804.05 C466.67,806.15 467.33,808.33 468.00,810.48 C468.67,812.63 469.33,814.81 470.00,816.95 C470.67,819.09 471.33,821.27 472.00,823.33 C472.67,825.38 473.33,827.22 474.00,829.26 C474.67,831.29 475.33,833.35 476.00,835.55 C476.67,837.75 477.33,840.11 478.00,842.46 C478.67,844.81 479.33,847.20 480.00,849.66 C480.67,852.13 481.33,854.70 482.00,857.26 C482.67,859.81 483.33,862.77 484.00,865.02 C484.67,867.26 485.33,868.84 486.00,870.73 C486.67,872.62 487.33,874.59 488.00,876.37 C488.67,878.14 489.33,879.75 490.00,881.36 C490.67,882.98 491.33,884.57 492.00,886.07 C492.67,887.57 493.33,888.95 494.00,890.37 C494.67,891.79 495.33,893.31 496.00,894.60 C496.67,895.89 497.33,896.94 498.00,898.10 C498.67,899.27 499.33,900.54 500.00,901.58 C500.67,902.63 501.33,903.44 502.00,904.37 C502.67,905.29 503.33,906.27 504.00,907.14 C504.67,908.00 505.33,908.75 506.00,909.55 C506.67,910.35 507.33,911.14 508.00,911.94 C508.67,912.74 509.33,913.53 510.00,914.35 C510.67,915.17 511.33,915.99 512.00,916.84 C512.67,917.69 513.33,918.57 514.00,919.44 C514.67,920.31 515.33,921.19 516.00,922.05 C516.67,922.91 517.33,923.77 518.00,924.62 C518.67,925.48 519.33,926.37 520.00,927.18 C520.67,927.99 521.33,928.83 522.00,929.47 C522.67,930.11 523.33,930.50 524.00,931.00 C524.67,931.51 525.33,931.99 526.00,932.49 C526.67,932.99 527.33,933.49 528.00,933.98 C528.67,934.47 529.33,934.95 530.00,935.43 C530.67,935.92 531.33,936.39 532.00,936.86 C532.67,937.34 533.33,937.81 534.00,938.29 C534.67,938.76 535.33,939.23 536.00,939.72 C536.67,940.20 537.33,940.70 538.00,941.22 C538.67,941.74 539.33,942.29 540.00,942.82 C540.67,943.36 541.33,943.89 542.00,944.43 C542.67,944.97 543.33,945.49 544.00,946.07 C544.67,946.65 545.33,947.26 546.00,947.90 C546.67,948.54 547.33,949.22 548.00,949.90 C548.67,950.58 549.33,951.23 550.00,951.96 C550.67,952.69 551.33,953.47 552.00,954.29 C552.67,955.10 553.33,955.95 554.00,956.85 C554.67,957.74 555.33,958.63 556.00,959.67 C556.67,960.70 557.33,961.86 558.00,963.04 C558.67,964.21 559.33,965.41 560.00,966.74 C560.67,968.07 561.33,969.59 562.00,971.00 C562.67,972.41 563.33,973.80 564.00,975.21 C564.67,976.62 565.33,978.09 566.00,979.47 C566.67,980.86 567.33,982.21 568.00,983.52 C568.67,984.82 569.33,986.06 570.00,987.30 C570.67,988.55 571.33,989.86 572.00,991.00 C572.67,992.15 573.33,993.15 574.00,994.18 C574.67,995.22 575.33,996.28 576.00,997.21 C576.67,998.15 577.33,998.98 578.00,999.79 C578.67,1000.59 579.33,1001.33 580.00,1002.04 C580.67,1002.75 581.33,1003.41 582.00,1004.03 C582.67,1004.65 583.33,1005.24 584.00,1005.75 C584.67,1006.27 585.33,1006.67 586.00,1007.12 C586.67,1007.58 587.33,1008.04 588.00,1008.47 C588.67,1008.90 589.33,1009.34 590.00,1009.72 C590.67,1010.10 591.33,1010.40 592.00,1010.73 C592.67,1011.07 593.33,1011.43 594.00,1011.75 C594.67,1012.07 595.33,1012.36 596.00,1012.64 C596.67,1012.93 597.33,1013.20 598.00,1013.46 C598.67,1013.71 599.33,1013.96 600.00,1014.19 C600.67,1014.43 601.33,1014.64 602.00,1014.84 C602.67,1015.05 603.33,1015.26 604.00,1015.42 C604.67,1015.59 605.33,1015.71 606.00,1015.84 C606.67,1015.96 607.33,1016.08 608.00,1016.20 C608.67,1016.32 609.33,1016.46 610.00,1016.56 C610.67,1016.65 611.33,1016.70 612.00,1016.76 C612.67,1016.81 613.33,1016.87 614.00,1016.91 C614.67,1016.96 615.33,1016.98 616.00,1017.02 C616.67,1017.06 617.33,1017.10 618.00,1017.13 C618.67,1017.17 619.33,1017.22 620.00,1017.24 C620.67,1017.27 621.33,1017.28 622.00,1017.30 C622.67,1017.31 623.33,1017.32 624.00,1017.33 C624.67,1017.34 625.33,1017.34 626.00,1017.35 C626.67,1017.36 627.33,1017.36 628.00,1017.37 C628.67,1017.38 629.33,1017.38 630.00,1017.39 C630.67,1017.40 631.33,1017.40 632.00,1017.41 C632.67,1017.42 633.33,1017.43 634.00,1017.43 C634.67,1017.44 635.33,1017.45 636.00,1017.45 C636.67,1017.46 637.33,1017.47 638.00,1017.47 C638.67,1017.48 639.33,1017.49 640.00,1017.50 C640.67,1017.50 641.33,1017.51 642.00,1017.52 C642.67,1017.52 643.33,1017.53 644.00,1017.54 C644.67,1017.54 645.33,1017.55 646.00,1017.56 C646.67,1017.57 647.33,1017.57 648.00,1017.58 C648.67,1017.59 649.33,1017.60 650.00,1017.60 C650.67,1017.60 651.33,1017.60 652.00,1017.60 C652.67,1017.60 653.33,1017.60 654.00,1017.60 C654.67,1017.60 655.33,1017.60 656.00,1017.60 C656.67,1017.60 657.33,1017.60 658.00,1017.60 C658.67,1017.60 659.33,1017.60 660.00,1017.60 C660.67,1017.60 661.33,1017.60 662.00,1017.60 C662.67,1017.60 663.33,1017.60 664.00,1017.60 C664.67,1017.60 665.33,1017.60 666.00,1017.60 C666.67,1017.60 667.33,1017.60 668.00,1017.60 C668.67,1017.60 669.33,1017.60 670.00,1017.60 C670.67,1017.60 671.33,1017.60 672.00,1017.60 C672.67,1017.60 673.33,1017.60 674.00,1017.60 C674.67,1017.60 675.33,1017.60 676.00,1017.60 C676.67,1017.60 677.33,1017.60 678.00,1017.60 C678.67,1017.60 679.33,1017.60 680.00,1017.60 C680.67,1017.60 681.33,1017.60 682.00,1017.60 C682.67,1017.60 683.33,1017.60 684.00,1017.60 C684.67,1017.60 685.33,1017.60 686.00,1017.60 C686.67,1017.60 687.33,1017.60 688.00,1017.60 C688.67,1017.60 689.33,1017.60 690.00,1017.60 C690.67,1017.60 691.33,1017.60 692.00,1017.60 C692.67,1017.60 693.33,1017.60 694.00,1017.60 C694.67,1017.60 695.33,1017.60 696.00,1017.60 C696.67,1017.60 697.33,1017.60 698.00,1017.60 C698.67,1017.60 699.33,1017.60 700.00,1017.60 C700.67,1017.60 701.33,1017.60 702.00,1017.60 C702.67,1017.60 703.33,1017.60 704.00,1017.60 C704.67,1017.60 705.33,1017.60 706.00,1017.60 C706.67,1017.60 707.33,1017.60 708.00,1017.60 C708.67,1017.60 709.33,1017.60 710.00,1017.60 C710.67,1017.60 711.33,1017.60 712.00,1017.60 C712.67,1017.60 713.33,1017.60 714.00,1017.60 C714.67,1017.60 715.33,1017.60 716.00,1017.60 C716.67,1017.60 717.33,1017.60 718.00,1017.60 C718.67,1017.60 719.33,1017.60 720.00,1017.60 C720.67,1017.60 721.33,1017.60 722.00,1017.60 C722.67,1017.60 723.33,1017.60 724.00,1017.60 C724.67,1017.60 725.33,1017.60 726.00,1017.60 C726.67,1017.60 727.33,1017.60 728.00,1017.60 C728.67,1017.60 729.33,1017.60 730.00,1017.60 C730.67,1017.60 731.33,1017.60 732.00,1017.60 C732.67,1017.60 733.33,1017.60 734.00,1017.60 C734.67,1017.60 735.33,1017.60 736.00,1017.60 C736.67,1017.60 737.33,1017.60 738.00,1017.60 C738.67,1017.60 739.33,1017.60 740.00,1017.60 C740.67,1017.60 741.33,1017.60 742.00,1017.60 C742.67,1017.60 743.33,1017.60 744.00,1017.60 C744.67,1017.60 745.33,1017.60 746.00,1017.60 C746.67,1017.60 747.33,1017.60 748.00,1017.60 C748.67,1017.60 749.33,1017.60 750.00,1017.60 C750.67,1017.60 751.33,1017.60 752.00,1017.60 C752.67,1017.60 753.33,1017.60 754.00,1017.60 C754.67,1017.60 755.33,1017.60 756.00,1017.60 C756.67,1017.60 757.33,1017.60 758.00,1017.60 C758.67,1017.60 759.33,1017.60 760.00,1017.60 C760.67,1017.60 761.33,1017.60 762.00,1017.60 C762.67,1017.60 763.33,1017.60 764.00,1017.60 C764.67,1017.60 765.33,1017.60 766.00,1017.60 C766.67,1017.60 767.33,1017.60 768.00,1017.60 C768.67,1017.60 769.33,1017.60 770.00,1017.60 C770.67,1017.60 771.33,1017.60 772.00,1017.60 C772.67,1017.60 773.33,1017.60 774.00,1017.60 C774.67,1017.60 775.33,1017.60 776.00,1017.60 C776.67,1017.60 777.33,1017.60 778.00,1017.60 C778.67,1017.60 779.33,1017.60 780.00,1017.60 C780.67,1017.60 781.33,1017.60 782.00,1017.60 C782.67,1017.60 783.33,1017.60 784.00,1017.60 C784.67,1017.60 785.33,1017.60 786.00,1017.60 C786.67,1017.60 787.33,1017.60 788.00,1017.60 C788.67,1017.60 789.33,1017.60 790.00,1017.60 C790.67,1017.60 791.33,1017.60 792.00,1017.60 C792.67,1017.60 793.33,1017.60 794.00,1017.60 C794.67,1017.60 795.33,1017.60 796.00,1017.60 C796.67,1017.60 797.33,1017.60 798.00,1017.60 C798.67,1017.60 799.33,1017.60 800.00,1017.60 C800.67,1017.60 801.33,1017.60 802.00,1017.60 C802.67,1017.60 803.33,1017.60 804.00,1017.60 C804.67,1017.60 805.67,1017.60 806.00,1017.60" stroke="#DE8F05" stroke-width="3.7"/>
<path d="M202.00,1017.60 C228.33,1017.60 332.00,1017.65 360.00,1017.60 C388.00,1017.55 367.00,1017.40 370.00,1017.30 C373.00,1017.20 375.50,1017.17 378.00,1017.00 C380.50,1016.83 382.62,1016.65 385.00,1016.30 C387.38,1015.95 390.37,1015.55 392.30,1014.90 C394.23,1014.25 394.98,1013.42 396.60,1012.40 C398.22,1011.38 400.30,1010.30 402.00,1008.80 C403.70,1007.30 405.30,1005.43 406.80,1003.40 C408.30,1001.37 409.72,999.47 411.00,996.60 C412.28,993.73 413.47,990.25 414.50,986.20 C415.53,982.15 416.40,976.93 417.20,972.30 C418.00,967.67 418.65,963.03 419.30,958.40 C419.95,953.77 420.58,949.13 421.10,944.50 C421.62,939.87 421.83,936.02 422.40,930.60 C422.97,925.18 423.47,919.60 424.50,912.00 C425.53,904.40 427.55,892.62 428.60,885.00 C429.65,877.38 430.03,872.97 430.80,866.30 C431.57,859.63 432.42,851.35 433.20,845.00 C433.98,838.65 435.12,831.00 435.50,828.20 L437.20,810.00 L438.90,795.50 L441.60,779.40 L450.30,767.80 L457.00,773.30 L460.60,783.50 L464.60,794.00 L468.60,807.80 C469.17,809.83 470.85,816.13 472.00,820.00 C473.15,823.87 474.38,827.10 475.50,831.00 C476.62,834.90 477.72,839.40 478.70,843.40 C479.68,847.40 480.52,851.10 481.40,855.00 C482.28,858.90 482.90,862.88 484.00,866.80 C485.10,870.72 486.62,874.60 488.00,878.50 C489.38,882.40 490.97,886.87 492.30,890.20 C493.63,893.53 494.72,895.83 496.00,898.50 C497.28,901.17 498.75,904.20 500.00,906.20 C501.25,908.20 501.92,908.62 503.50,910.50 C505.08,912.38 507.52,915.08 509.50,917.50 C511.48,919.92 513.28,922.30 515.40,925.00 C517.52,927.70 519.95,931.28 522.20,933.70 C524.45,936.12 526.48,937.55 528.90,939.50 C531.32,941.45 534.27,943.45 536.70,945.40 C539.13,947.35 541.40,949.27 543.50,951.20 C545.60,953.13 547.37,954.90 549.30,957.00 C551.23,959.10 553.48,961.53 555.10,963.80 C556.72,966.07 558.02,968.73 559.00,970.60 C559.98,972.47 560.07,973.18 561.00,975.00 C561.93,976.82 563.40,979.35 564.60,981.50 C565.80,983.65 566.92,985.78 568.20,987.90 C569.48,990.02 570.88,992.18 572.30,994.20 C573.72,996.22 575.12,998.23 576.70,1000.00 C578.28,1001.77 579.98,1003.38 581.80,1004.80 C583.62,1006.22 585.57,1007.33 587.60,1008.50 C589.63,1009.67 591.78,1010.80 594.00,1011.80 C596.22,1012.80 598.23,1013.70 600.90,1014.50 C603.57,1015.30 606.82,1016.13 610.00,1016.60 C613.18,1017.07 613.33,1017.13 620.00,1017.30 C626.67,1017.47 619.00,1017.55 650.00,1017.60 C681.00,1017.65 780.00,1017.60 806.00,1017.60" stroke="#000000" stroke-width="3.8"/>
<path d="M202.00,1017.60 C218.33,1017.60 273.67,1017.62 300.00,1017.60 C326.33,1017.58 348.33,1017.55 360.00,1017.50 C371.67,1017.45 367.00,1017.38 370.00,1017.30 C373.00,1017.22 375.50,1017.18 378.00,1017.00 C380.50,1016.82 382.70,1016.60 385.00,1016.20 C387.30,1015.80 389.97,1015.30 391.80,1014.60 C393.63,1013.90 394.40,1013.05 396.00,1012.00 C397.60,1010.95 399.70,1009.83 401.40,1008.30 C403.10,1006.77 404.70,1004.87 406.20,1002.80 C407.70,1000.73 409.12,998.78 410.40,995.90 C411.68,993.02 412.87,989.55 413.90,985.50 C414.93,981.45 415.80,976.23 416.60,971.60 C417.40,966.97 418.05,962.32 418.70,957.70 C419.35,953.08 419.98,948.52 420.50,943.90 C421.02,939.28 421.22,935.32 421.80,930.00 C422.38,924.68 422.87,919.50 424.00,912.00 C425.13,904.50 427.47,892.62 428.60,885.00 C429.73,877.38 430.03,872.97 430.80,866.30 C431.57,859.63 432.42,851.35 433.20,845.00 C433.98,838.65 435.12,831.00 435.50,828.20 L437.20,810.00 L438.90,797.40 L442.30,782.90 L450.00,772.60 L454.80,778.20 L459.70,790.30 L464.50,804.80 L469.40,819.40 C470.27,821.82 472.87,828.85 474.60,833.90 C476.33,838.95 478.18,844.65 479.80,849.70 C481.42,854.75 482.80,859.75 484.30,864.20 C485.80,868.65 486.83,871.95 488.80,876.40 C490.77,880.85 493.53,886.38 496.10,890.90 C498.67,895.42 501.55,899.82 504.20,903.50 C506.85,907.18 509.95,910.42 512.00,913.00 C514.05,915.58 514.97,917.00 516.50,919.00 C518.03,921.00 519.13,923.20 521.20,925.00 C523.27,926.80 526.15,928.02 528.90,929.80 C531.65,931.58 534.95,933.75 537.70,935.70 C540.45,937.65 543.15,939.57 545.40,941.50 C547.65,943.43 549.42,945.20 551.20,947.30 C552.98,949.40 554.68,951.98 556.10,954.10 C557.52,956.22 558.58,957.85 559.70,960.00 C560.82,962.15 561.78,964.58 562.80,967.00 C563.82,969.42 564.80,972.12 565.80,974.50 C566.80,976.88 567.80,979.07 568.80,981.30 C569.80,983.53 570.72,985.73 571.80,987.90 C572.88,990.07 574.08,992.28 575.30,994.30 C576.52,996.32 577.65,998.17 579.10,1000.00 C580.55,1001.83 582.18,1003.68 584.00,1005.30 C585.82,1006.92 587.83,1008.38 590.00,1009.70 C592.17,1011.02 594.58,1012.18 597.00,1013.20 C599.42,1014.22 601.83,1015.18 604.50,1015.80 C607.17,1016.42 609.97,1016.65 613.00,1016.90 C616.03,1017.15 616.53,1017.18 622.70,1017.30 C628.87,1017.42 619.45,1017.55 650.00,1017.60 C680.55,1017.65 780.00,1017.60 806.00,1017.60" stroke="#029E73" stroke-width="4.0"/>
</g>
<rect x="172.3" y="1.8" width="648.8" height="493.2" fill="none" stroke="#000" stroke-width="3.4" stroke-linejoin="miter"/>
<rect x="172.3" y="547.5" width="648.8" height="493.0" fill="none" stroke="#000" stroke-width="3.4" stroke-linejoin="miter"/>
<path d="M192.40,495.00 v14.8 M395.20,495.00 v14.8 M598.00,495.00 v14.8 M800.80,495.00 v14.8 M192.40,1040.50 v14.8 M395.20,1040.50 v14.8 M598.00,1040.50 v14.8 M800.80,1040.50 v14.8 M172.30,470.40 h-14.8 M172.30,381.78 h-14.8 M172.30,293.16 h-14.8 M172.30,204.54 h-14.8 M172.30,115.92 h-14.8 M172.30,27.30 h-14.8 M172.30,1017.60 h-14.8 M172.30,934.02 h-14.8 M172.30,850.44 h-14.8 M172.30,766.86 h-14.8 M172.30,683.28 h-14.8 M172.30,599.70 h-14.8" stroke="#000" stroke-width="3" fill="none"/>
<path d="M293.80,495.00 v8.9 M496.60,495.00 v8.9 M699.40,495.00 v8.9 M293.80,1040.50 v8.9 M496.60,1040.50 v8.9 M699.40,1040.50 v8.9 M172.30,426.09 h-8.9 M172.30,337.47 h-8.9 M172.30,248.85 h-8.9 M172.30,160.23 h-8.9 M172.30,71.61 h-8.9 M172.30,975.81 h-8.9 M172.30,892.23 h-8.9 M172.30,808.65 h-8.9 M172.30,725.07 h-8.9 M172.30,641.49 h-8.9 M172.30,557.91 h-8.9" stroke="#000" stroke-width="2.3" fill="none"/>
<g font-family="Liberation Sans, sans-serif">
<text transform="translate(0.00,53.80) scale(0.9594,1)" fill="#000"><tspan x="0.40" y="0.00" font-size="68.78">A</tspan></text>
<text transform="translate(-6.10,591.30) scale(0.9253,1)" fill="#000"><tspan x="1.31" y="0.00" font-size="68.78">B</tspan></text>
<text transform="translate(142.20,483.70) scale(1.0087,1)" fill="#000"><tspan x="-21.03" y="0.00" font-size="36.26">0</tspan></text>
<text transform="translate(142.20,395.08) scale(0.9723,1)" fill="#000"><tspan x="-21.92" y="0.00" font-size="36.26">2</tspan></text>
<text transform="translate(142.20,306.46) scale(1.0089,1)" fill="#000"><tspan x="-21.04" y="0.00" font-size="36.26">4</tspan></text>
<text transform="translate(142.20,217.84) scale(1.0440,1)" fill="#000"><tspan x="-20.67" y="0.00" font-size="36.26">6</tspan></text>
<text transform="translate(142.20,129.22) scale(1.0197,1)" fill="#000"><tspan x="-20.92" y="0.00" font-size="36.26">8</tspan></text>
<text transform="translate(142.20,40.60) scale(0.9861,1)" fill="#000"><tspan x="-43.85 -21.29" y="0.00" font-size="36.26">10</tspan></text>
<text transform="translate(141.60,1030.90) scale(1.0154,1)" fill="#000"><tspan x="-75.31 -53.97 -42.70 -20.96" y="0.00" font-size="36.26">0.00</tspan></text>
<text transform="translate(141.60,947.32) scale(1.0012,1)" fill="#000"><tspan x="-76.23 -54.66 -43.17 -21.25" y="0.00" font-size="36.26">0.05</tspan></text>
<text transform="translate(141.60,863.74) scale(1.0041,1)" fill="#000"><tspan x="-76.04 -54.52 -43.26 -21.09" y="0.00" font-size="36.26">0.10</tspan></text>
<text transform="translate(141.60,780.16) scale(0.9899,1)" fill="#000"><tspan x="-76.99 -55.23 -43.72 -21.38" y="0.00" font-size="36.26">0.15</tspan></text>
<text transform="translate(141.60,696.58) scale(1.0063,1)" fill="#000"><tspan x="-75.90 -54.41 -43.45 -21.06" y="0.00" font-size="36.26">0.20</tspan></text>
<text transform="translate(141.60,613.00) scale(0.9921,1)" fill="#000"><tspan x="-76.84 -55.12 -43.93 -21.35" y="0.00" font-size="36.26">0.25</tspan></text>
<text transform="translate(192.40,1097.20) scale(1.0025,1)" fill="#000"><tspan x="-26.79 -5.05 6.42" y="0.00" font-size="36.26">1.0</tspan></text>
<text transform="translate(395.20,1097.20) scale(0.9874,1)" fill="#000"><tspan x="-27.03 -5.05 6.49" y="0.00" font-size="36.26">1.1</tspan></text>
<text transform="translate(598.00,1097.20) scale(0.9904,1)" fill="#000"><tspan x="-26.99 -5.05 6.16" y="0.00" font-size="36.26">1.2</tspan></text>
<text transform="translate(800.80,1097.20) scale(0.9892,1)" fill="#000"><tspan x="-27.00 -5.05 6.69" y="0.00" font-size="36.26">1.3</tspan></text>
<text transform="translate(571.00,52.60) scale(1.0532,1)" fill="#000"><tspan x="-1.07 18.82 37.52 46.74 65.57 75.73 93.76 111.32 127.65" y="0.00" font-size="31.92">Reference</tspan></text>
<text transform="translate(571.00,97.00) scale(1.0096,1)" fill="#000"><tspan x="-0.55 15.41 25.55 45.45 53.89 72.25 81.93 104.21 124.84 134.47" y="0.00" font-size="31.92">Train Data</tspan></text>
<text transform="translate(571.00,141.80) scale(1.0104,1)" fill="#000"><tspan x="-1.20 21.34 40.14 58.98 78.23 87.32 98.38 106.43 125.22 144.01 162.57 181.18 190.36 210.09" y="0.00" font-size="31.92">Conditioned BG</tspan></text>
<text transform="translate(571.00,598.00) scale(1.0532,1)" fill="#000"><tspan x="-1.07 18.82 37.52 46.74 65.57 75.73 93.76 111.32 127.65" y="0.00" font-size="31.92">Reference</tspan></text>
<text transform="translate(571.00,643.00) scale(0.9893,1)" fill="#000"><tspan x="-0.73 21.02 30.94 51.31 70.55 88.76 109.80 120.98 139.80 149.21 167.47 186.14" y="0.00" font-size="31.92">Standard TPS</tspan></text>
<text transform="translate(571.00,688.00) scale(1.0104,1)" fill="#000"><tspan x="-1.20 21.34 40.14 58.98 78.23 87.32 98.38 106.43 125.22 144.01 162.57 181.18 190.36 210.09" y="0.00" font-size="31.92">Conditioned BG</tspan></text>
<text transform="translate(72.20,390.40) rotate(-90) scale(0.9839,1)" fill="#000"><tspan x="-0.32 22.17 51.52 73.16" y="0.00" font-size="34.9">PMF[</tspan><tspan x="84.76" y="0.00" font-size="34.9" font-style="italic">R</tspan><tspan x="110.87" y="5.20" font-size="24.43" font-style="italic">G</tspan><tspan x="130.36" y="0.00" font-size="34.9">(</tspan><tspan x="145.61" y="0.00" font-size="34.9" font-style="italic">x</tspan><tspan x="166.94 182.18 192.64 204.68 219.66" y="0.00" font-size="34.9">)] [k</tspan><tspan x="238.28" y="5.20" font-size="24.43" font-style="italic">B</tspan><tspan x="255.51 280.37" y="0.00" font-size="34.9">T]</tspan></text>
<text transform="translate(36.90,889.10) rotate(-90) scale(0.9853,1)" fill="#000"><tspan x="1.65" y="0.00" font-size="34.6" font-style="italic">p</tspan><tspan x="23.04" y="0.00" font-size="34.6">[</tspan><tspan x="35.47 56.50" y="0.00" font-size="34.6" font-style="italic">TP</tspan><tspan x="80.04" y="0.00" font-size="34.6">|</tspan><tspan x="88.96" y="0.00" font-size="34.6" font-style="italic">R</tspan><tspan x="114.81" y="5.20" font-size="24.22" font-style="italic">G</tspan><tspan x="134.11" y="0.00" font-size="34.6">(</tspan><tspan x="149.21" y="0.00" font-size="34.6" font-style="italic">x</tspan><tspan x="170.33 185.41" y="0.00" font-size="34.6">)]</tspan></text>
<text transform="translate(453.00,1148.00) scale(0.9300,1)" fill="#000"><tspan x="-0.83" y="0.00" font-size="34.7" font-style="italic">R</tspan><tspan x="26.46" y="5.20" font-size="24.29" font-style="italic">G</tspan><tspan x="46.80" y="0.00" font-size="34.7">(</tspan><tspan x="62.95" y="0.00" font-size="34.7" font-style="italic">x</tspan><tspan x="85.17" y="0.00" font-size="34.7">)</tspan></text>
</g>
<path d="M483.3,41.7 H548.2" stroke="#000" stroke-width="4.1"/>
<path d="M483.3,86.2 H548.2" stroke="#DE8F05" stroke-width="4.1"/>
<g stroke="#029E73" stroke-width="2.2"><path d="M515.6,115.5 V146.4 M512,115.5 H519.2 M512,146.4 H519.2"/></g><circle cx="515.6" cy="131.2" r="4" fill="#029E73"/>
<path d="M483.6,587.7 H548.2" stroke="#000" stroke-width="4.0"/>
<path d="M483.6,632.3 H548.2" stroke="#DE8F05" stroke-width="4.0"/>
<path d="M483.6,677.8 H548.2" stroke="#029E73" stroke-width="4.0"/>
</svg>
</body></html>
